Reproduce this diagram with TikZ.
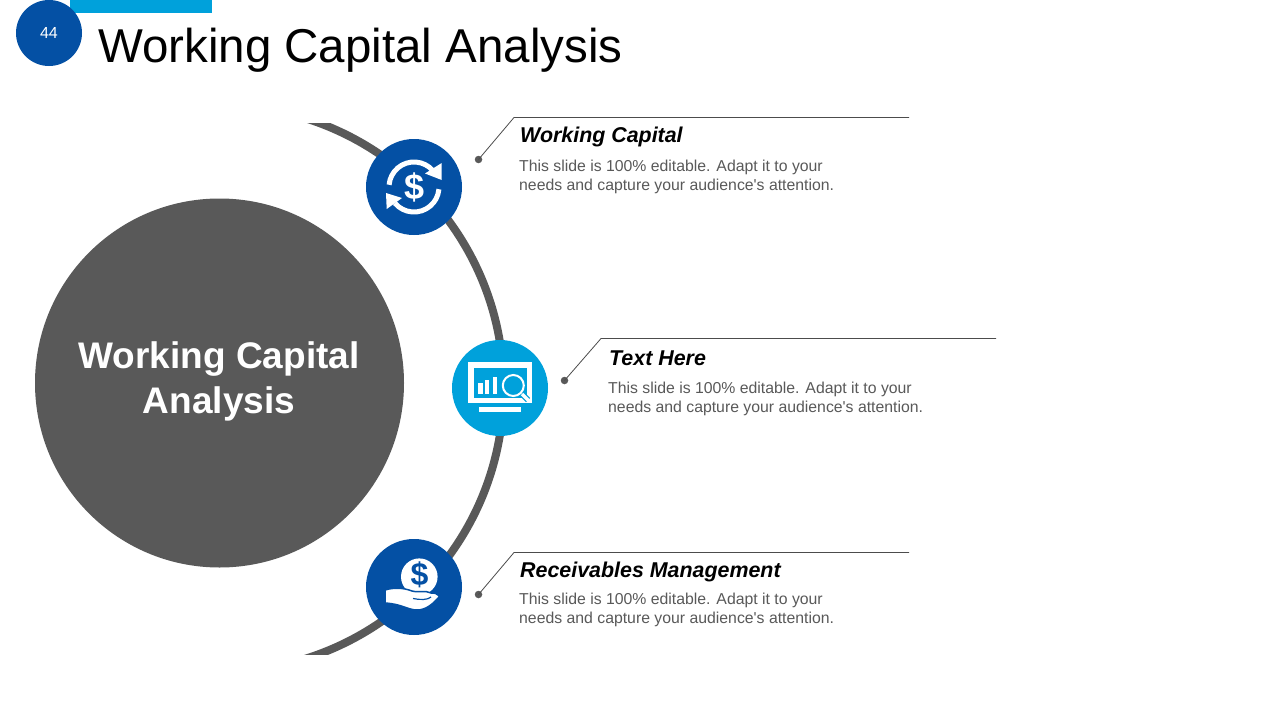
\documentclass[tikz,border=0pt]{standalone}
\usepackage{fontspec}
\setmainfont{Liberation Sans}[Ligatures=TeXOff]
\usetikzlibrary{positioning}
\definecolor{darkblue}{HTML}{0450A4}
\definecolor{lightblue}{HTML}{00A1DB}
\definecolor{arcgrey}{HTML}{595959}
\definecolor{bodygrey}{HTML}{595959}
\begin{document}
\begin{tikzpicture}[x=1pt,y=-1pt,
    icon node/.style={circle,fill=#1,minimum size=96pt,inner sep=0pt},
    dot node/.style={circle,fill=arcgrey,minimum size=7.5pt,inner sep=0pt},
    leader/.style={draw=black!70,line width=0.8pt},
    head text/.style={anchor=base west,inner sep=0pt,font=\fontsize{21.4}{24}\selectfont\bfseries\itshape},
    body text/.style={anchor=north west,inner sep=0pt,align=left,text=bodygrey,font=\fontsize{15.8}{19}\selectfont}]
\useasboundingbox (0,0) rectangle (1280,720);
\fill[white] (0,0) rectangle (1280,720);

% header
\fill[lightblue] (70,0) rectangle (212,13);
\node[circle,fill=darkblue,minimum size=66pt,inner sep=0pt,text=white,font=\fontsize{16}{19}\selectfont] (num) at (49,33) {44};
\node[anchor=base west,inner sep=0pt,font=\fontsize{47.5}{56}\selectfont] (title) at (98,62) {Working Capital Analysis};

% ring behind the icons
\begin{scope}
\clip (250,123) rectangle (560,654.5);
\draw[arcgrey,line width=8pt] (220.5,388.5) circle[radius=283.2];
\end{scope}

\node[circle,fill=arcgrey,minimum size=369pt,inner sep=0pt] (main) at (219.5,383) {};
\node[text=white,align=center,inner sep=0pt,font=\fontsize{37}{45}\selectfont\bfseries] (maintext) at (219,381) {Working Capital\\Analysis};

\node[icon node=darkblue]  (money) at (414,187) {};
\node[icon node=lightblue] (chart) at (500,388) {};
\node[icon node=darkblue]  (hand)  at (414,587) {};

% refresh icon
\draw[white,line width=5pt] (389.1,184.8) arc[start angle=-175,end angle=-40,radius=25];
\draw[white,line width=5pt] (438.9,189.2) arc[start angle=5,end angle=140,radius=25];
\fill[white] (441.7,163) -- (441.7,180) -- (425,173.5) -- cycle;
\fill[white] (386,193) -- (386.7,209) -- (402,198) -- cycle;
\node[text=white,font=\fontsize{36}{40}\selectfont\bfseries] (moneysign) at (415,187.5) {\$};

% monitor icon
\fill[white] (468.3,361.7) rectangle (531.7,403.3);
\fill[lightblue] (474,368.3) rectangle (526.7,398.3);
\fill[white] (479,407) rectangle (520.7,411.7);
\fill[white] (478.3,383.3) rectangle (482.7,394);
\fill[white] (485,380) rectangle (489.3,394);
\fill[white] (492.7,376.7) rectangle (497.3,394);
\draw[lightblue,line width=6pt] (522,394) -- (528,400);
\draw[white,line width=3.5pt] (522,394) -- (529,401);
\draw[white,line width=2pt,fill=lightblue] (513.3,385.5) circle[radius=10.5];

% hand icon
\fill[white] (419.3,576.7) circle[radius=18.3];
\node[text=darkblue,font=\fontsize{32}{38}\selectfont\bfseries] (handsign) at (419.4,575) {\$};
\draw[darkblue,line width=1.5pt,fill=white] (385,590) .. controls (393,587.5) and (403,587.5) .. (412,591)
  .. controls (420,593) and (425,590) .. (431,593) .. controls (435,593) and (436,593) .. (439.5,596.5)
  .. controls (433,604) and (426,610) .. (417,610) .. controls (408,610) and (402,604) .. (385,603) -- cycle;
\draw[darkblue,line width=1.2pt] (413,598.5) .. controls (420,600) and (428,600) .. (431,597);

% labels on the right
\node[dot node] (dotA) at (478.5,159.5) {};
\coordinate (cornerA) at (514,117.5);
\coordinate (endA) at (909,117.5);
\draw[leader] (dotA.center) -- (cornerA) -- (endA);
\node[head text] (headA) at (520,142) {Working Capital};
\node[body text] (bodyA) at (519,160) {This slide is 100\% editable. Adapt it to your\\needs and capture your audience's attention.};

\node[dot node] (dotB) at (564.5,380.5) {};
\coordinate (cornerB) at (601,338.5);
\coordinate (endB) at (996,338.5);
\draw[leader] (dotB.center) -- (cornerB) -- (endB);
\node[head text] (headB) at (609,365) {Text Here};
\node[body text] (bodyB) at (608,382) {This slide is 100\% editable. Adapt it to your\\needs and capture your audience's attention.};

\node[dot node] (dotC) at (478.5,594.5) {};
\coordinate (cornerC) at (514,552.5);
\coordinate (endC) at (909,552.5);
\draw[leader] (dotC.center) -- (cornerC) -- (endC);
\node[head text] (headC) at (520,577) {Receivables Management};
\node[body text] (bodyC) at (519,593) {This slide is 100\% editable. Adapt it to your\\needs and capture your audience's attention.};
\end{tikzpicture}
\end{document}
